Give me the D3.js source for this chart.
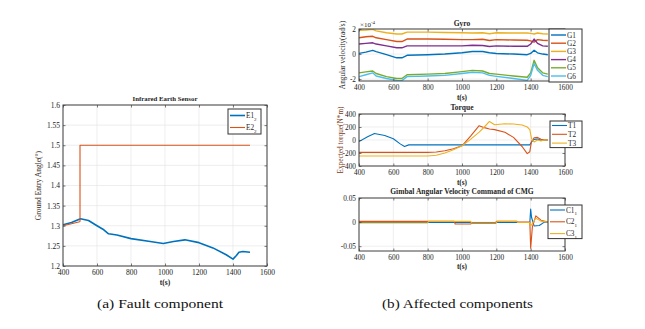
<!DOCTYPE html>
<html>
<head>
<meta charset="utf-8">
<script src="https://cdn.jsdelivr.net/npm/d3@7"></script>
<style>
  body { margin: 0; background: #fff; }
  svg text { font-family: "Liberation Serif", "Times New Roman", serif; fill: #262626; }
</style>
</head>
<body>
<svg id="fig" width="645" height="329"></svg>
<script>
// MATLAB default line colours
const C_BLUE = "#0072BD", C_RED = "#D95319", C_YEL = "#EDB120",
      C_PUR = "#7E2F8E", C_GRN = "#77AC30", C_CYAN = "#4DBEEE";

const xTicks = [400, 600, 800, 1000, 1200, 1400, 1600];

// ---- Infrared Earth sensor (ground entry angle, deg)
const tE1 = [400, 450, 503, 550, 600, 640, 668, 717, 800, 913, 990, 1050, 1117, 1200, 1282, 1360, 1400, 1420, 1435, 1458, 1500];
const e1  = [1.3025, 1.308, 1.3175, 1.313, 1.300, 1.290, 1.280, 1.277, 1.268, 1.261, 1.256, 1.261, 1.265, 1.258, 1.245, 1.228, 1.217, 1.226, 1.234, 1.236, 1.234];
const tE2 = [400, 450, 498, 500, 500, 1500];
const e2  = [1.300, 1.305, 1.310, 1.311, 1.5, 1.5];
const iesTicks = [1.2, 1.25, 1.3, 1.35, 1.4, 1.45, 1.5, 1.55, 1.6];

// ---- Gyro (x 1e-4 rad/s)
const tG = [400, 440, 480, 500, 560, 620, 650, 680, 800, 900, 1000, 1060, 1120, 1160, 1200, 1300, 1380, 1400, 1420, 1440, 1470, 1500];
const g1 = [0.05, 0.15, 0.3, 0.2, -0.05, -0.3, -0.3, -0.1, -0.05, 0.0, 0.1, 0.2, 0.2, 0.1, 0.05, 0.0, -0.05, 0.05, 0.3, 0.1, 0.0, -0.05];
const g2 = [1.3, 1.38, 1.42, 1.3, 1.15, 1.0, 1.0, 1.2, 1.2, 1.18, 1.15, 1.15, 1.18, 1.08, 1.15, 1.12, 1.1, 1.05, 0.95, 1.15, 1.1, 1.08];
const g3 = [1.9, 1.92, 1.97, 1.85, 1.7, 1.6, 1.6, 1.75, 1.75, 1.72, 1.7, 1.68, 1.7, 1.62, 1.7, 1.68, 1.68, 1.65, 1.6, 1.68, 1.62, 1.6];
const g4 = [0.8, 0.85, 0.9, 0.8, 0.65, 0.5, 0.5, 0.65, 0.65, 0.65, 0.65, 0.7, 0.68, 0.6, 0.65, 0.62, 0.62, 0.8, 1.2, 0.85, 0.65, 0.62];
const g5 = [-1.5, -1.42, -1.35, -1.55, -1.8, -1.95, -1.95, -1.65, -1.6, -1.55, -1.4, -1.3, -1.35, -1.55, -1.6, -1.75, -1.85, -1.5, -0.5, -1.1, -1.5, -1.6];
const g6 = [-1.8, -1.65, -1.5, -1.75, -1.95, -2.1, -2.12, -1.8, -1.75, -1.7, -1.55, -1.45, -1.5, -1.7, -1.78, -1.95, -2.1, -1.7, -0.75, -1.3, -1.7, -1.8];
const gyroTicks = [-2, 0, 2];

// ---- Expected torque (N*m)
const tT = [400, 450, 490, 550, 600, 640, 665, 690, 800, 850, 900, 950, 1000, 1050, 1100, 1130, 1160, 1190, 1250, 1300, 1350, 1380, 1395, 1405, 1420, 1440, 1460, 1480, 1500];
const t1 = [-25, 50, 100, 70, 20, -60, -100, -75, -75, -75, -75, -75, -75, -75, -75, -75, -75, -75, -75, -75, -75, -75, -75, -30, 10, 15, -5, 5, 0];
const t2 = [-190, -190, -190, -190, -190, -190, -190, -190, -190, -185, -165, -135, -90, 60, 220, 190, 170, 160, 120, 40, -100, -210, -180, -20, 35, 40, 10, 5, 0];
const t3 = [-245, -245, -245, -245, -245, -245, -245, -245, -245, -235, -200, -150, -90, 10, 120, 200, 285, 235, 250, 245, 230, 200, 160, 20, -30, 0, -15, 5, 0];
const torqueTicks = [-400, -200, 0, 200, 400];

// ---- Gimbal angular velocity command of CMG
const tC1 = [400, 1395, 1400, 1405, 1420, 1450, 1480, 1500];
const c1  = [-0.001, -0.001, 0.027, 0.01, -0.008, -0.007, 0.0, 0.0];
const tC2 = [400, 955, 960, 1050, 1055, 1195, 1200, 1320, 1325, 1395, 1400, 1410, 1430, 1460, 1500];
const c2  = [0.0015, 0.0015, -0.004, -0.004, -0.003, -0.003, 0.0015, 0.0015, 0.0, 0.0, -0.054, -0.01, 0.013, 0.004, 0.0];
const tC3 = [400, 800, 805, 1050, 1055, 1200, 1205, 1320, 1325, 1395, 1400, 1430, 1460, 1500];
const c3  = [-0.002, -0.002, 0.0015, 0.0015, -0.002, -0.002, 0.0015, 0.0015, -0.001, -0.001, -0.008, 0.008, 0.002, 0.0];
const cmgTicks = [-0.05, 0, 0.05];

const svg = d3.select("#fig");
const defs = svg.append("defs");

const zip = (ts, vs) => ts.map((t, i) => [t, vs[i]]);

const panels = [
  {
    id: "ies", x0: 63, x1: 267, y0: 105, y1: 266,
    yDomain: [1.2, 1.6], yTicks: iesTicks, yFmt: d => String(+d.toFixed(2)),
    title: "Infrared Earth Sensor", titleSize: 6.8, titleY: 101,
    xlabelY: 285, ylabel: "Ground Entry Angle(\u00b0)", ylabelX: 41, ylabelColor: "#3a2a1a",
    tickSize: 7.5,
    series: [
      { name: "E1", sub: "2", color: C_BLUE, w: 1.6, pts: zip(tE1, e1) },
      { name: "E2", sub: "2", color: C_RED, w: 1.1, pts: zip(tE2, e2) }
    ],
    legend: { x: 228, y: 109, w: 33, rowH: 12, firstY: 115.5 }
  },
  {
    id: "gyro", x0: 359, x1: 565, y0: 29, y1: 81,
    yDomain: [-2.15, 2], yTicks: gyroTicks, yFmt: d => String(d),
    title: "Gyro", titleSize: 7.5, titleY: 26,
    xlabelY: 100, ylabel: "Angular velocity(rad/s)", ylabelX: 345, ylabelColor: "#262626",
    tickSize: 7.3, exponent: true,
    series: [
      { name: "G1", color: C_BLUE, w: 1.4, pts: zip(tG, g1) },
      { name: "G2", color: C_RED, w: 1.4, pts: zip(tG, g2) },
      { name: "G3", color: C_YEL, w: 1.4, pts: zip(tG, g3) },
      { name: "G4", color: C_PUR, w: 1.4, pts: zip(tG, g4) },
      { name: "G5", color: C_GRN, w: 1.4, pts: zip(tG, g5) },
      { name: "G6", color: C_CYAN, w: 1.4, pts: zip(tG, g6) }
    ],
    legend: { x: 549, y: 29, w: 33, rowH: 8.2, firstY: 35 }
  },
  {
    id: "torque", x0: 359, x1: 565, y0: 114, y1: 166,
    yDomain: [-400, 400], yTicks: torqueTicks, yFmt: d => String(d),
    title: "Torque", titleSize: 7.5, titleY: 110,
    xlabelY: 185, ylabel: "Expected torque(N*m)", ylabelX: 343, ylabelColor: "#7a3a18",
    tickSize: 7.3,
    series: [
      { name: "T1", color: C_BLUE, w: 1.1, pts: zip(tT, t1) },
      { name: "T2", color: C_RED, w: 1.1, pts: zip(tT, t2) },
      { name: "T3", color: C_YEL, w: 1.1, pts: zip(tT, t3) }
    ],
    legend: { x: 550, y: 121, w: 32, rowH: 8.8, firstY: 125.5 }
  },
  {
    id: "cmg", x0: 359, x1: 565, y0: 198, y1: 251,
    yDomain: [-0.06, 0.05], yTicks: cmgTicks, yFmt: d => (d === 0 ? "0" : String(d)),
    title: "Gimbal Angular Velocity Command of CMG", titleSize: 7.5, titleY: 194,
    xlabelY: 269, ylabel: null,
    tickSize: 7.3,
    series: [
      { name: "C1", sub: "1", color: C_BLUE, w: 1.1, pts: zip(tC1, c1) },
      { name: "C2", sub: "1", color: C_RED, w: 1.1, pts: zip(tC2, c2) },
      { name: "C3", sub: "1", color: C_YEL, w: 1.1, pts: zip(tC3, c3) }
    ],
    legend: { x: 548, y: 205, w: 34, rowH: 11.8, firstY: 210 }
  }
];

function drawPanel(p) {
  const g = svg.append("g").attr("class", "panel-" + p.id);
  const x = d3.scaleLinear().domain([400, 1600]).range([p.x0, p.x1]);
  const y = d3.scaleLinear().domain(p.yDomain).range([p.y1, p.y0]);
  const w = p.x1 - p.x0, h = p.y1 - p.y0;

  // grid
  const grid = g.append("g").attr("stroke", "#e3e3e3").attr("stroke-width", 0.6);
  grid.selectAll(".gx").data(xTicks).join("line")
    .attr("x1", d => x(d)).attr("x2", d => x(d)).attr("y1", p.y0).attr("y2", p.y1);
  grid.selectAll(".gy").data(p.yTicks).join("line")
    .attr("x1", p.x0).attr("x2", p.x1).attr("y1", d => y(d)).attr("y2", d => y(d));

  // series
  defs.append("clipPath").attr("id", "clip-" + p.id)
    .append("rect").attr("x", p.x0).attr("y", p.y0).attr("width", w).attr("height", h);
  const line = d3.line().x(d => x(d[0])).y(d => y(d[1]));
  g.append("g").attr("clip-path", `url(#clip-${p.id})`)
    .selectAll("path").data(p.series).join("path")
    .attr("d", s => line(s.pts))
    .attr("fill", "none")
    .attr("stroke", s => s.color)
    .attr("stroke-width", s => s.w)
    .attr("stroke-linejoin", "round");

  // axes, inward ticks on all four sides
  const styleAxis = sel => {
    sel.select(".domain").remove();
    sel.selectAll(".tick line").attr("stroke", "#404040").attr("stroke-width", 0.7);
    sel.selectAll(".tick text").attr("font-size", p.tickSize).style("fill", "#1a1a1a");
  };
  g.append("g").attr("transform", `translate(0,${p.y1})`)
    .call(d3.axisBottom(x).tickValues(xTicks).tickFormat(d3.format("d"))
      .tickSizeInner(-2.5).tickSizeOuter(0).tickPadding(4))
    .call(styleAxis);
  g.append("g").attr("transform", `translate(0,${p.y0})`)
    .call(d3.axisTop(x).tickValues(xTicks).tickSizeInner(-2.5).tickSizeOuter(0).tickFormat(""))
    .call(styleAxis);
  g.append("g").attr("transform", `translate(${p.x0},0)`)
    .call(d3.axisLeft(y).tickValues(p.yTicks).tickFormat(p.yFmt).tickSizeInner(-2.5).tickSizeOuter(0).tickPadding(3))
    .call(styleAxis);
  g.append("g").attr("transform", `translate(${p.x1},0)`)
    .call(d3.axisRight(y).tickValues(p.yTicks).tickSizeInner(-2.5).tickSizeOuter(0).tickFormat(""))
    .call(styleAxis);

  g.append("rect").attr("x", p.x0).attr("y", p.y0).attr("width", w).attr("height", h)
    .attr("fill", "none").attr("stroke", "#404040").attr("stroke-width", 1);

  // labels
  g.append("text").attr("x", (p.x0 + p.x1) / 2).attr("y", p.titleY)
    .attr("text-anchor", "middle").attr("font-size", p.titleSize).attr("font-weight", "bold")
    .text(p.title);
  g.append("text").attr("x", (p.x0 + p.x1) / 2).attr("y", p.xlabelY)
    .attr("text-anchor", "middle").attr("font-size", p.tickSize).attr("font-weight", "bold")
    .text("t(s)");
  if (p.ylabel) {
    g.append("text")
      .attr("transform", `translate(${p.ylabelX},${(p.y0 + p.y1) / 2}) rotate(-90)`)
      .attr("text-anchor", "middle").attr("font-size", p.tickSize)
      .style("fill", p.ylabelColor)
      .text(p.ylabel);
  }
  if (p.exponent) {
    const ex = g.append("text").attr("x", p.x0 + 1).attr("y", p.y0 - 2.5).attr("font-size", 7);
    ex.append("tspan").text("\u00d710");
    ex.append("tspan").attr("dy", -3).attr("font-size", 5).text("-4");
  }

  // legend
  const L = p.legend;
  const lg = g.append("g");
  const lh = L.rowH * p.series.length + (L.firstY - L.y) * 2 - L.rowH;
  lg.append("rect").attr("x", L.x).attr("y", L.y).attr("width", L.w).attr("height", lh)
    .attr("fill", "#fff").attr("stroke", "#333").attr("stroke-width", 1);
  p.series.forEach((s, i) => {
    const yy = L.firstY + i * L.rowH;
    lg.append("line").attr("x1", L.x + 2).attr("x2", L.x + 17).attr("y1", yy).attr("y2", yy)
      .attr("stroke", s.color).attr("stroke-width", s.w);
    const t = lg.append("text").attr("x", L.x + 18).attr("y", yy + 2.6).attr("font-size", 7.3);
    t.append("tspan").text(s.name);
    if (s.sub) t.append("tspan").attr("dy", 2.5).attr("font-size", 5).text(s.sub);
  });
}

panels.forEach(drawPanel);

// sub-figure captions
svg.append("text").attr("x", 97).attr("y", 308).attr("font-size", 13)
  .attr("textLength", 126).attr("lengthAdjust", "spacingAndGlyphs")
  .style("fill", "#111").text("(a) Fault component");
svg.append("text").attr("x", 382).attr("y", 308).attr("font-size", 13)
  .attr("textLength", 151).attr("lengthAdjust", "spacingAndGlyphs")
  .style("fill", "#111").text("(b) Affected components");
</script>
</body>
</html>
